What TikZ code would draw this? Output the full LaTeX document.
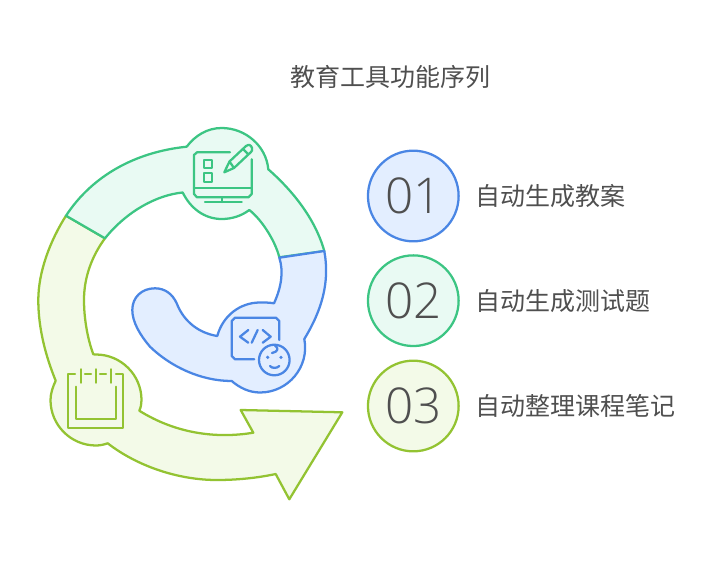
\documentclass[tikz,border=0pt]{standalone}
\usepackage{fontspec}
\newfontfamily\cjk{Noto Sans CJK SC}
\newfontfamily\numf{Open Sans Light}
\definecolor{bS}{HTML}{4A86E4}\definecolor{bF}{HTML}{E3EEFF}
\definecolor{gS}{HTML}{3CC583}\definecolor{gF}{HTML}{E9FAF3}
\definecolor{lS}{HTML}{93C332}\definecolor{lF}{HTML}{F3FAE8}
\definecolor{tx}{HTML}{4F4F4F}
\tikzset{
 band/.style n args={2}{draw=#1,fill=#2,line width=1.7pt,line join=round},
 ico/.style={draw=#1,line width=1.7pt,line cap=round,line join=round},
 badge/.style n args={2}{circle,draw=#1,fill=#2,line width=1.7pt,minimum size=68pt,inner sep=0pt,font=\numf\fontsize{37}{37}\selectfont,text=tx},
 lbl/.style={anchor=west,inner sep=0pt,font=\cjk\fontsize{18.75}{20}\selectfont,text=tx}
}
\begin{document}
\begin{tikzpicture}[x=0.75pt,y=-0.75pt]
\useasboundingbox (0,0) rectangle (715,561);
% lime band
\draw[band={lS}{lF}] (66,215.7) .. controls (50,241) and (38.3,272) .. (38.3,300)
 .. controls (38.3,329) and (46,357) .. (55.7,380.7)
 .. controls (52.9,386.6) and (50.5,393.4) .. (50.5,400)
 .. controls (50.5,425.1) and (70.9,445.5) .. (96,445.5)
 .. controls (100,445.5) and (104,444.6) .. (107.7,443.3)
 .. controls (137,466) and (178,480) .. (216.7,480)
 .. controls (237,480) and (257,478) .. (275.7,474)
 -- (289.3,499.3) -- (342.3,412.3) -- (240.7,410) -- (253.3,432.7)
 .. controls (215,439) and (175,433) .. (139.3,410.7)
 .. controls (141,407) and (141.5,403.5) .. (141.5,400)
 .. controls (141.5,375) and (121,354.5) .. (96,354.5)
 -- (93.3,354.3)
 .. controls (88,340) and (84,320) .. (84,300)
 .. controls (84,277) and (92,256) .. (105,238.3) -- cycle;
% green band
\draw[band={gS}{gF}] (66,215.7) .. controls (92,176) and (135,152) .. (186.7,146.7)
 .. controls (195.4,135.3) and (207.4,128) .. (221.7,128)
 .. controls (245.3,128) and (266.2,145.7) .. (268.3,169.3)
 .. controls (293,191) and (315.3,219) .. (324.3,251)
 -- (279.3,257.3)
 .. controls (275,240) and (261,219) .. (249.3,210)
 .. controls (241.4,216) and (231.6,219) .. (221.7,219)
 .. controls (204.3,219) and (190.4,208.2) .. (182.7,192.5)
 .. controls (157,195) and (127,211) .. (105,238.3) -- cycle;
% blue band
\draw[band={bS}{bF}] (279.3,257.7) -- (324.3,251)
 .. controls (330,282) and (322,310) .. (304.3,339)
 .. controls (309.7,366.7) and (288.3,392.5) .. (260,392.5)
 .. controls (249.4,392.5) and (239.7,387.9) .. (231.7,381)
 .. controls (200,381) and (170,366) .. (150,346.7)
 .. controls (140,335) and (132.3,322) .. (132.3,310)
 .. controls (132.3,297) and (142,288.3) .. (155,288.3)
 .. controls (165,288.3) and (172.5,294) .. (176.7,303.3)
 .. controls (184,322) and (199,333) .. (217.3,336)
 .. controls (222.6,316.2) and (239.6,302.5) .. (260,302.5)
 .. controls (265,302.5) and (269.5,302.5) .. (274,303.3)
 .. controls (281,288) and (284,272) .. (279.3,257.7) -- cycle;
% monitor icon
\draw[ico=gS] (230,152.3) -- (197,152.3) -- (194,155) -- (194,194) -- (197,197.3) -- (248.5,197.3) -- (251.7,194) -- (251.7,159.3);
\draw[ico=gS] (194,187.7) -- (251.7,187.7);
\draw[ico=gS] (221.7,197.3) -- (221.7,202) (205,202) -- (241.7,202);
\draw[ico=gS] (204,160) rectangle (212.3,167.7) (204,173.3) rectangle (212.3,181.7);
\draw[ico=gS] (224.3,172.3) -- (229.5,161.5) -- (246,146) .. controls (249,144) and (251,145) .. (252,148) .. controls (252.5,150) and (252,151) .. (251,152) -- (234,168) -- cycle (229.5,161.5) -- (234,168) (243,149) -- (248.5,154.5);
% code icon
\draw[ico=bS] (279.3,340) -- (279.3,321) -- (276,317.7) -- (235,317.7) -- (231.7,321) -- (231.7,356) -- (235,359.3) -- (254.3,359.3);
\draw[ico=bS] (248.3,330) -- (240,336.7) -- (248.3,342.7) (257.7,330) -- (251.7,342.7) (262.7,330) -- (270.7,336.7) -- (262.7,342.7);
\draw[ico=bS] (274.3,360) circle [radius=15.3];
\draw[ico=bS] (275,345.5) .. controls (279,348) and (278,352) .. (272,353);
\fill[bS] (267.7,357.3) circle [radius=1.8] (281,357.3) circle [radius=1.8];
\draw[ico=bS] (270,366) .. controls (272,368.5) and (277,368.5) .. (279.3,366);
% calendar icon
\draw[ico=lS] (75,374.3) -- (68.3,374.3) -- (68.3,427.7) -- (123.3,427.7) -- (123.3,374.3) -- (116,374.3);
\draw[ico=lS] (85,374.3) -- (91,374.3) (100,374.3) -- (106,374.3);
\draw[ico=lS] (80.7,369.3) -- (80.7,382.7) (95.7,369.3) -- (95.7,382.7) (110.7,369.3) -- (110.7,382.7);
\draw[ico=lS] (75.7,386.7) -- (75.7,419.3) -- (115.8,419.3) -- (115.8,386.7);
% legend
\node[badge={bS}{bF}] (n1) at (413.3,196) {01};
\node[badge={gS}{gF}] (n2) at (413.3,300.7) {02};
\node[badge={lS}{lF}] (n3) at (413.3,406) {03};
\node[lbl] (t1) at (475.7,196) {自动生成教案};
\node[lbl] (t2) at (475.7,301) {自动生成测试题};
\node[lbl] (t3) at (475.7,406) {自动整理课程笔记};
\node[lbl,anchor=center] (title) at (390.5,77) {教育工具功能序列};
\end{tikzpicture}
\end{document}
